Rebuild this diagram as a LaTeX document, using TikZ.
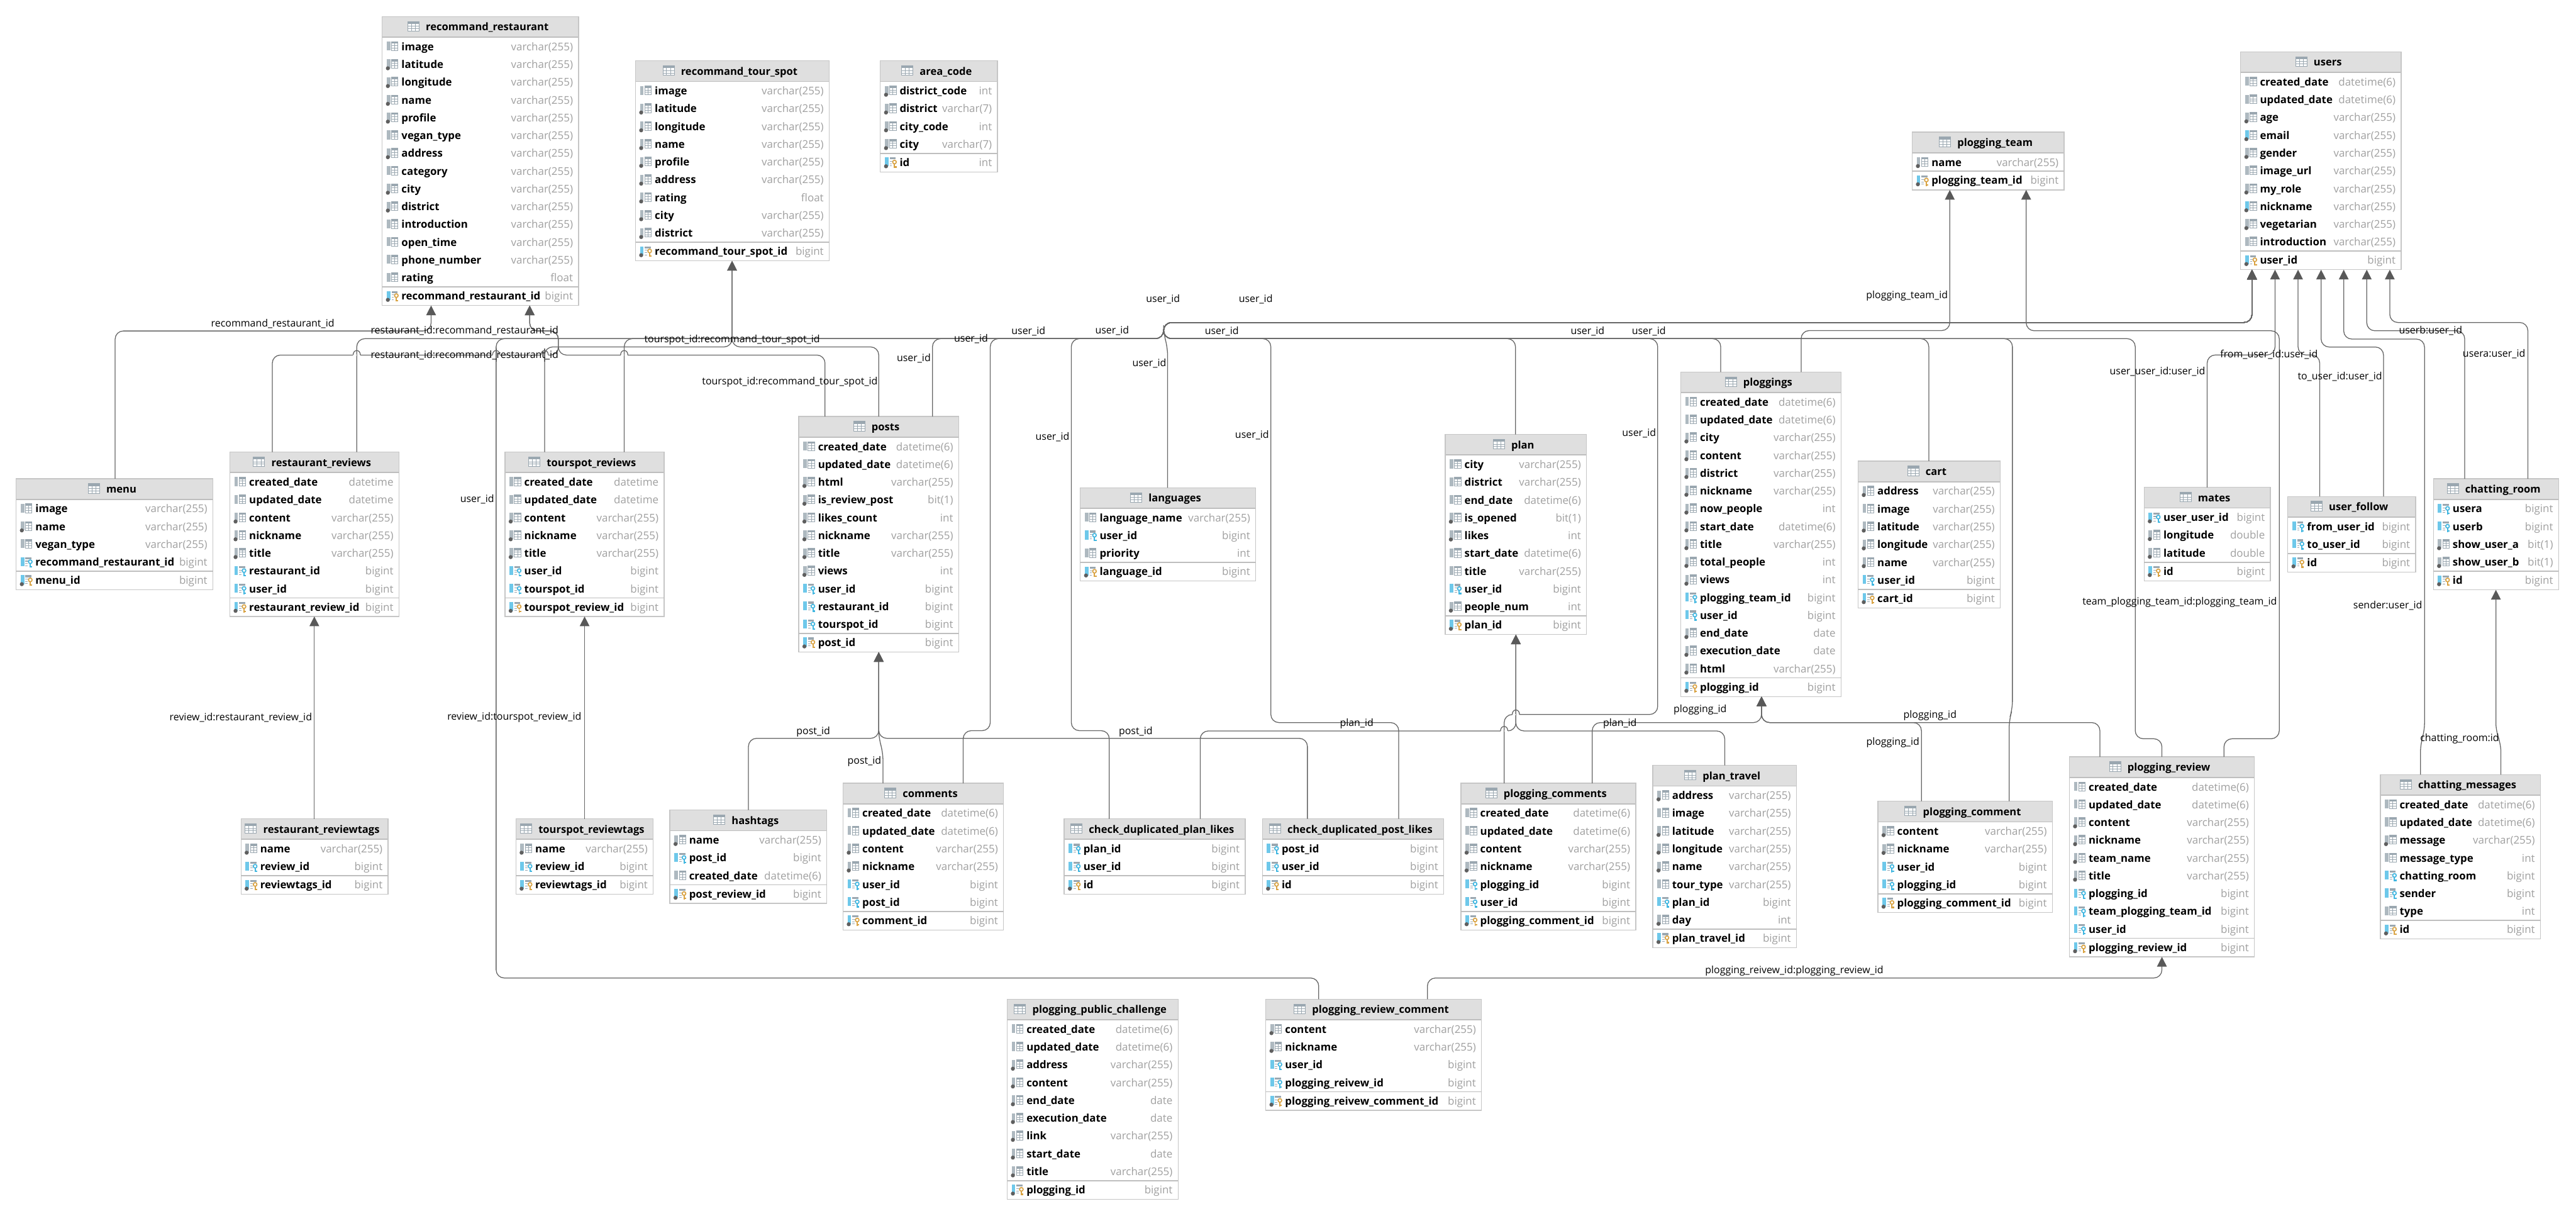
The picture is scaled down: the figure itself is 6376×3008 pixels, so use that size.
\documentclass[tikz,border=0pt]{standalone}
\usepackage{fontspec}
\setmainfont{Open Sans}[Ligatures=NoCommon]
\usetikzlibrary{arrows.meta}
\definecolor{barg}{HTML}{AEB9C0}
\definecolor{gridg}{HTML}{9AA7B0}
\definecolor{barb}{HTML}{6EC8EA}
\definecolor{keyb}{HTML}{40B6E0}
\definecolor{keyg}{HTML}{D9A343}
\definecolor{dotc}{HTML}{5F5F5F}
\definecolor{typec}{HTML}{A0A0A0}
\definecolor{relc}{HTML}{666666}
\definecolor{tipc}{HTML}{595959}
\definecolor{headc}{HTML}{DFDFDF}
\definecolor{edgec}{HTML}{C6C6C6}
\definecolor{sepc}{HTML}{BEBEBE}
\tikzset{
  tblbox/.style={draw=edgec,line width=0.5pt,inner sep=0pt,outer sep=0pt,anchor=north west},
  titletxt/.style={inner sep=0pt,font=\fontsize{6.45}{8}\selectfont\bfseries,anchor=base},
  nametxt/.style={inner sep=0pt,font=\fontsize{6.55}{8}\selectfont\bfseries,anchor=base west},
  typetxt/.style={inner sep=0pt,font=\fontsize{6.6}{8}\selectfont,text=typec,anchor=base east},
  lbl/.style={inner sep=0pt,font=\fontsize{6.2}{8}\selectfont,text=black},
  rel/.style={draw=relc,line width=0.5pt,rounded corners=5pt,-{Triangle[length=6pt,width=6pt,color=tipc]}},
}
\newcount\rowc
% ---- column icon parts, origin at icon left edge and row centre
\newcommand{\gridpart}{%
  \fill[gridg] (12,-13) rectangle (28,-8);
  \draw[gridg,line width=0.3pt] (12,-13) rectangle (28,9) (20,-8) -- (20,9) (12,-3) -- (28,-3) (12,3) -- (28,3);}
\newcommand{\lnpart}{%
  \fill[gridg] (12,-13) rectangle (27,-8);
  \draw[gridg,line width=0.4pt] (12,-3) -- (19,-3) (12,3) -- (18,3) (12,8) -- (18,8);}
\newcommand{\keypart}[1]{%
  \draw[#1,line width=0.65pt] (24,-1.5) circle (4.5);
  \fill[#1] (22.5,3) rectangle (25.5,13);
  \fill[#1] (25,9) rectangle (29,12.5);}
\newcommand{\iconc}{\gridpart\fill[barg] (0,-13) rectangle (9,9);}
\newcommand{\iconn}{\gridpart\fill[barg] (0,-13) rectangle (9,9);\fill[dotc] (3,9) circle (5);}
\newcommand{\iconu}{\gridpart\fill[barb] (0,-13) rectangle (9,9);\fill[dotc] (3,9) circle (5);}
\newcommand{\iconf}{\lnpart\fill[barb] (0,-13) rectangle (9,9);\keypart{keyb}}
\newcommand{\icong}{\lnpart\fill[barb] (0,-13) rectangle (9,9);\fill[dotc] (3,9) circle (5);\keypart{keyb}}
\newcommand{\iconp}{\lnpart\fill[barb] (0,-13) rectangle (9,9);\fill[dotc] (3,9) circle (5);\keypart{keyg}}
% ---- tables
\newcommand{\dbtable}[7]{% id title L T R nrows body
  \def\tid{#1}\def\tL{#3}\def\tT{#4}\def\tR{#5}\def\tN{#6}%
  \global\rowc=0
  \pgfmathsetmacro\tH{53+44*#6+46}%
  \pgfmathsetmacro\tWd{(#5-#3)*0.25}%
  \pgfmathsetmacro\tHd{\tH*0.25}%
  \pgfmathsetmacro\tCx{(#3+#5)/2+17}%
  \pgfmathsetmacro\tBase{#4+35}%
  \pgfmathsetmacro\tHb{#4+51}%
  \fill[headc] (#3,#4) rectangle (#5,\tHb);
  \draw[sepc,line width=0.7pt] (#3,\tHb) -- (#5,\tHb);
  \node[tblbox,minimum width=\tWd pt,minimum height=\tHd pt] (#1) at (#3,#4) {};
  \node[titletxt] (#1t) at (\tCx,\tBase) {#2};
  \begin{scope}[shift={(#1t.base west)}]
    \fill[white] (-44,-23) rectangle (-16,1);
    \fill[gridg] (-44,-23) rectangle (-16,-17);
    \draw[gridg,line width=0.35pt] (-44,-23) rectangle (-16,1) (-35,-17) -- (-35,1) (-25,-17) -- (-25,1) (-44,-11) -- (-16,-11) (-44,-5) -- (-16,-5);
  \end{scope}
  #7}
\newcommand{\drow}[3]{% kind name type
  \pgfmathsetmacro\yc{\tT+75+44*\the\rowc}%
  \pgfmathsetmacro\yb{\yc+9}%
  \pgfmathsetmacro\xi{\tL+11}%
  \pgfmathsetmacro\xn{\tL+47}%
  \pgfmathsetmacro\xt{\tR-13}%
  \global\advance\rowc by 1
  \begin{scope}[shift={(\xi,\yc)}]\csname icon#1\endcsname\end{scope}
  \node[nametxt] (\tid n\the\rowc) at (\xn,\yb) {#2};
  \node[typetxt] (\tid y\the\rowc) at (\xt,\yb) {#3};}
\newcommand{\dpk}[2]{% name type
  \pgfmathsetmacro\ys{\tT+53+44*\tN}%
  \pgfmathsetmacro\yc{\ys+23}%
  \pgfmathsetmacro\yb{\yc+9}%
  \pgfmathsetmacro\xi{\tL+11}%
  \pgfmathsetmacro\xn{\tL+47}%
  \pgfmathsetmacro\xt{\tR-13}%
  \draw[sepc,line width=0.7pt] (\tL,\ys) -- (\tR,\ys);
  \begin{scope}[shift={(\xi,\yc)}]\iconp\end{scope}
  \node[nametxt] (\tid pkn) at (\xn,\yb) {#1};
  \node[typetxt] (\tid pky) at (\xt,\yb) {#2};}
\newcommand{\hop}[2]{%
  \draw[white,line width=1pt] ({#1-9},#2) -- ({#1+9},#2);
  \draw[relc,line width=0.5pt] ({#1-9},#2) .. controls ({#1-9},{#2-15}) and ({#1+9},{#2-15}) .. ({#1+9},#2);
  \draw[relc,line width=0.5pt] (#1,{#2-16}) -- (#1,{#2+16});}
\begin{document}
\catcode`\_=12
\begin{tikzpicture}[x=0.25pt,y=-0.25pt]
\useasboundingbox (0,0) rectangle (6376,3008);
\fill[white] (0,0) rectangle (6376,3008);
\def\vc{varchar(255)}\def\dts{datetime(6)}\def\bi{bigint}

\dbtable{recrest}{recommand_restaurant}{946}{41}{1432}{14}{%
 \drow{c}{image}{\vc}\drow{n}{latitude}{\vc}\drow{n}{longitude}{\vc}\drow{n}{name}{\vc}\drow{n}{profile}{\vc}\drow{c}{vegan_type}{\vc}\drow{n}{address}{\vc}\drow{c}{category}{\vc}\drow{n}{city}{\vc}\drow{n}{district}{\vc}\drow{c}{introduction}{\vc}\drow{c}{open_time}{\vc}\drow{c}{phone_number}{\vc}\drow{c}{rating}{float}\dpk{recommand_restaurant_id}{\bi}}
\dbtable{rects}{recommand_tour_spot}{1573}{150.5}{2052.5}{9}{%
 \drow{c}{image}{\vc}\drow{n}{latitude}{\vc}\drow{n}{longitude}{\vc}\drow{n}{name}{\vc}\drow{n}{profile}{\vc}\drow{n}{address}{\vc}\drow{n}{rating}{float}\drow{n}{city}{\vc}\drow{n}{district}{\vc}\dpk{recommand_tour_spot_id}{\bi}}
\dbtable{areacode}{area_code}{2179}{150.5}{2469}{4}{%
 \drow{n}{district_code}{int}\drow{n}{district}{varchar(7)}\drow{n}{city_code}{int}\drow{n}{city}{varchar(7)}\dpk{id}{int}}
\dbtable{menu}{menu}{40}{1184.5}{527}{4}{%
 \drow{c}{image}{\vc}\drow{n}{name}{\vc}\drow{c}{vegan_type}{\vc}\drow{f}{recommand_restaurant_id}{\bi}\dpk{menu_id}{\bi}}
\dbtable{resrev}{restaurant_reviews}{569}{1118.5}{987.5}{7}{%
 \drow{c}{created_date}{datetime}\drow{c}{updated_date}{datetime}\drow{n}{content}{\vc}\drow{n}{nickname}{\vc}\drow{n}{title}{\vc}\drow{f}{restaurant_id}{\bi}\drow{f}{user_id}{\bi}\dpk{restaurant_review_id}{\bi}}
\dbtable{tsrev}{tourspot_reviews}{1250}{1118.5}{1643.7}{7}{%
 \drow{c}{created_date}{datetime}\drow{c}{updated_date}{datetime}\drow{n}{content}{\vc}\drow{n}{nickname}{\vc}\drow{n}{title}{\vc}\drow{f}{user_id}{\bi}\drow{f}{tourspot_id}{\bi}\dpk{tourspot_review_id}{\bi}}
\dbtable{posts}{posts}{1977}{1030.6}{2373}{11}{%
 \drow{c}{created_date}{\dts}\drow{c}{updated_date}{\dts}\drow{n}{html}{\vc}\drow{n}{is_review_post}{bit(1)}\drow{n}{likes_count}{int}\drow{n}{nickname}{\vc}\drow{n}{title}{\vc}\drow{n}{views}{int}\drow{f}{user_id}{\bi}\drow{f}{restaurant_id}{\bi}\drow{f}{tourspot_id}{\bi}\dpk{post_id}{\bi}}
\dbtable{languages}{languages}{2674}{1207}{3108}{3}{%
 \drow{c}{language_name}{\vc}\drow{f}{user_id}{\bi}\drow{c}{priority}{int}\dpk{language_id}{\bi}}
\dbtable{plan}{plan}{3577}{1075}{3927}{9}{%
 \drow{c}{city}{\vc}\drow{c}{district}{\vc}\drow{c}{end_date}{\dts}\drow{n}{is_opened}{bit(1)}\drow{n}{likes}{int}\drow{c}{start_date}{\dts}\drow{c}{title}{\vc}\drow{f}{user_id}{\bi}\drow{n}{people_num}{int}\dpk{plan_id}{\bi}}
\dbtable{ploggings}{ploggings}{4160}{920.4}{4557}{16}{%
 \drow{c}{created_date}{\dts}\drow{c}{updated_date}{\dts}\drow{n}{city}{\vc}\drow{n}{content}{\vc}\drow{n}{district}{\vc}\drow{n}{nickname}{\vc}\drow{n}{now_people}{int}\drow{n}{start_date}{\dts}\drow{n}{title}{\vc}\drow{n}{total_people}{int}\drow{n}{views}{int}\drow{f}{plogging_team_id}{\bi}\drow{f}{user_id}{\bi}\drow{n}{end_date}{date}\drow{n}{execution_date}{date}\drow{n}{html}{\vc}\dpk{plogging_id}{\bi}}
\dbtable{cart}{cart}{4599}{1141}{4951}{6}{%
 \drow{n}{address}{\vc}\drow{c}{image}{\vc}\drow{n}{latitude}{\vc}\drow{n}{longitude}{\vc}\drow{n}{name}{\vc}\drow{f}{user_id}{\bi}\dpk{cart_id}{\bi}}
\dbtable{mates}{mates}{5307}{1206}{5619.6}{3}{%
 \drow{g}{user_user_id}{\bi}\drow{n}{longitude}{double}\drow{n}{latitude}{double}\dpk{id}{\bi}}
\dbtable{ufollow}{user_follow}{5662.6}{1228.5}{5979}{2}{%
 \drow{f}{from_user_id}{\bi}\drow{f}{to_user_id}{\bi}\dpk{id}{\bi}}
\dbtable{chatroom}{chatting_room}{6023}{1184.6}{6333}{4}{%
 \drow{f}{usera}{\bi}\drow{f}{userb}{\bi}\drow{n}{show_user_a}{bit(1)}\drow{n}{show_user_b}{bit(1)}\dpk{id}{\bi}}
\dbtable{plogreview}{plogging_review}{5122}{1872.8}{5580}{9}{%
 \drow{c}{created_date}{\dts}\drow{c}{updated_date}{\dts}\drow{n}{content}{\vc}\drow{n}{nickname}{\vc}\drow{n}{team_name}{\vc}\drow{n}{title}{\vc}\drow{f}{plogging_id}{\bi}\drow{f}{team_plogging_team_id}{\bi}\drow{f}{user_id}{\bi}\dpk{plogging_review_id}{\bi}}
\dbtable{chatmsg}{chatting_messages}{5891.6}{1916.7}{6288}{7}{%
 \drow{c}{created_date}{\dts}\drow{c}{updated_date}{\dts}\drow{n}{message}{\vc}\drow{c}{message_type}{int}\drow{f}{chatting_room}{\bi}\drow{f}{sender}{\bi}\drow{c}{type}{int}\dpk{id}{\bi}}
\dbtable{plogcomment}{plogging_comment}{4648}{1982.6}{5080}{4}{%
 \drow{n}{content}{\vc}\drow{n}{nickname}{\vc}\drow{f}{user_id}{\bi}\drow{f}{plogging_id}{\bi}\dpk{plogging_comment_id}{\bi}}
\dbtable{users}{users}{5546}{128.4}{5943}{10}{%
 \drow{c}{created_date}{\dts}\drow{c}{updated_date}{\dts}\drow{n}{age}{\vc}\drow{u}{email}{\vc}\drow{n}{gender}{\vc}\drow{c}{image_url}{\vc}\drow{n}{my_role}{\vc}\drow{u}{nickname}{\vc}\drow{n}{vegetarian}{\vc}\drow{c}{introduction}{\vc}\dpk{user_id}{\bi}}
\dbtable{plogteam}{plogging_team}{4733}{327}{5109}{1}{%
 \drow{n}{name}{\vc}\dpk{plogging_team_id}{\bi}}
\dbtable{hashtags}{hashtags}{1658}{2004.5}{2046.5}{3}{%
 \drow{n}{name}{\vc}\drow{f}{post_id}{\bi}\drow{c}{created_date}{\dts}\dpk{post_review_id}{\bi}}
\dbtable{comments}{comments}{2086.7}{1938}{2484}{6}{%
 \drow{c}{created_date}{\dts}\drow{c}{updated_date}{\dts}\drow{n}{content}{\vc}\drow{n}{nickname}{\vc}\drow{f}{user_id}{\bi}\drow{f}{post_id}{\bi}\dpk{comment_id}{\bi}}
\dbtable{chkplan}{check_duplicated_plan_likes}{2634}{2026}{3082}{2}{%
 \drow{f}{plan_id}{\bi}\drow{f}{user_id}{\bi}\dpk{id}{\bi}}
\dbtable{chkpost}{check_duplicated_post_likes}{3124.6}{2026}{3573.5}{2}{%
 \drow{f}{post_id}{\bi}\drow{f}{user_id}{\bi}\dpk{id}{\bi}}
\dbtable{restags}{restaurant_reviewtags}{596.5}{2026}{960.6}{2}{%
 \drow{n}{name}{\vc}\drow{f}{review_id}{\bi}\dpk{reviewtags_id}{\bi}}
\dbtable{tstags}{tourspot_reviewtags}{1277}{2026}{1617}{2}{%
 \drow{n}{name}{\vc}\drow{f}{review_id}{\bi}\dpk{reviewtags_id}{\bi}}
\dbtable{plogcs}{plogging_comments}{3616}{1938}{4048.6}{6}{%
 \drow{c}{created_date}{\dts}\drow{c}{updated_date}{\dts}\drow{n}{content}{\vc}\drow{n}{nickname}{\vc}\drow{f}{plogging_id}{\bi}\drow{f}{user_id}{\bi}\dpk{plogging_comment_id}{\bi}}
\dbtable{plantravel}{plan_travel}{4091}{1894}{4446.6}{8}{%
 \drow{n}{address}{\vc}\drow{c}{image}{\vc}\drow{n}{latitude}{\vc}\drow{n}{longitude}{\vc}\drow{n}{name}{\vc}\drow{c}{tour_type}{\vc}\drow{f}{plan_id}{\bi}\drow{n}{day}{int}\dpk{plan_travel_id}{\bi}}
\dbtable{challenge}{plogging_public_challenge}{2493}{2472.5}{2916}{9}{%
 \drow{c}{created_date}{\dts}\drow{c}{updated_date}{\dts}\drow{n}{address}{\vc}\drow{n}{content}{\vc}\drow{n}{end_date}{date}\drow{n}{execution_date}{date}\drow{n}{link}{\vc}\drow{n}{start_date}{date}\drow{n}{title}{\vc}\dpk{plogging_id}{\bi}}
\dbtable{prvc}{plogging_review_comment}{3133}{2472.5}{3667}{4}{%
 \drow{n}{content}{\vc}\drow{n}{nickname}{\vc}\drow{f}{user_id}{\bi}\drow{f}{plogging_reivew_id}{\bi}\dpk{plogging_reivew_comment_id}{\bi}}

% ---- relations to recommand tables
\draw[rel] (menu.north -| 285,0) -- (285,819) -- (1067,819) -- (recrest.south -| 1067,0);
\draw[rel] (resrev.north -| 674,0) -- (674,878.6) -- (1382,878.6) -- (1382,819) -- (1311,819) -- (recrest.south -| 1311,0);
\draw[rel] (posts.north -| 2042,0) -- (2042,878.6) -- (1382,878.6) -- (1382,819) -- (1311,819) -- (recrest.south -| 1311,0);
\draw[rel] (tsrev.north -| 1348,0) -- (1348,858.5) -- (1812,858.5) -- (rects.south -| 1812,0);
\draw[rel] (posts.north -| 2175,0) -- (2175,858.5) -- (1812,858.5) -- (rects.south -| 1812,0);
% ---- user_id bus, arrow 1
\draw[rel] (resrev.north -| 883,0) -- (883,838) -- (2880,838) -- (2880,798) -- (5574,798) -- (users.south -| 5574,0);
\draw[rel] (prvc.north -| 3264,0) -- (3264,2420) -- (1228,2420) -- (1228,838) -- (2880,838) -- (2880,798) -- (5574,798) -- (users.south -| 5574,0);
\draw[rel] (tsrev.north -| 1545,0) -- (1545,838) -- (2880,838) -- (2880,798) -- (5574,798) -- (users.south -| 5574,0);
\draw[rel] (posts.north -| 2308,0) -- (2308,838) -- (2880,838) -- (2880,798) -- (5574,798) -- (users.south -| 5574,0);
\draw[rel] (comments.north -| 2384,0) -- (2384,1808) -- (2451,1808) -- (2451,838) -- (2880,838) -- (2880,798) -- (5574,798) -- (users.south -| 5574,0);
\draw[rel] (chkplan.north -| 2745.6,0) -- (2745.6,1808) -- (2651.6,1808) -- (2651.6,838) -- (2880,838) -- (2880,798) -- (5574,798) -- (users.south -| 5574,0);
\draw[rel] (languages.north -| 2890,0) -- (2890,860) -- (2880,825) -- (2880,798) -- (5574,798) -- (users.south -| 5574,0);
\draw[rel] (chkpost.north -| 3462,0) -- (3462,1788) -- (3145.5,1788) -- (3145.5,838) -- (2880,838) -- (2880,798) -- (5574,798) -- (users.south -| 5574,0);
\draw[rel] (plan.north -| 3751,0) -- (3751,838) -- (2880,838) -- (2880,798) -- (5574,798) -- (users.south -| 5574,0);
\draw[rel] (plogcs.north -| 3723,0) -- (3723,1768) -- (4103,1768) -- (4103,838) -- (2880,838) -- (2880,798) -- (5574,798) -- (users.south -| 5574,0);
\draw[rel] (ploggings.north -| 4259,0) -- (4259,838) -- (2880,838) -- (2880,798) -- (5574,798) -- (users.south -| 5574,0);
\draw[rel] (cart.north -| 4774,0) -- (4774,838) -- (2880,838) -- (2880,798) -- (5574,798) -- (users.south -| 5574,0);
\draw[rel] (plogcomment.north -| 4973,0) -- (4973,1780) -- (4981,1755) -- (4981,838) -- (2880,838) -- (2880,798) -- (5574,798) -- (users.south -| 5574,0);
\draw[rel] (plogreview.north -| 5351,0) -- (5351,1828) -- (5285,1828) -- (5285,838) -- (2880,838) -- (2880,798) -- (5574,798) -- (users.south -| 5574,0);
% ---- plogging_team
\draw[rel] (ploggings.north -| 4458,0) -- (4458,818) -- (4826,818) -- (plogteam.south -| 4826,0);
\draw[rel] (plogreview.north -| 5504.6,0) -- (5504.6,1828) -- (5641.5,1828) -- (5641.5,818.5) -- (5015,818.5) -- (plogteam.south -| 5015,0);
% ---- other arrows to users
\draw[rel] (mates.north -| 5463,0) -- (5463,878.4) -- (5631,878.4) -- (users.south -| 5631,0);
\draw[rel] (ufollow.north -| 5741.6,0) -- (5741.6,878.4) -- (5688,878.4) -- (users.south -| 5688,0);
\draw[rel] (ufollow.north -| 5899.5,0) -- (5899.5,858.7) -- (5745,858.7) -- (users.south -| 5745,0);
\draw[rel] (chatmsg.north -| 5991,0) -- (5991,1840) -- (6001,1810) -- (6001,839) -- (5801,839) -- (users.south -| 5801,0);
\draw[rel] (chatroom.north -| 6100.5,0) -- (6100.5,818.5) -- (5858,818.5) -- (users.south -| 5858,0);
\draw[rel] (chatroom.north -| 6256.7,0) -- (6256.7,798) -- (5915,798) -- (users.south -| 5915,0);
\draw[rel] (chatmsg.north -| 6190,0) -- (6190,1840) -- (6177.7,1810) -- (chatroom.south -| 6177.7,0);
% ---- plogging_review, ploggings, plan, posts
\draw[rel] (prvc.north -| 3533,0) -- (3533,2420) -- (5351,2420) -- (plogreview.south -| 5351,0);
\draw[rel] (plogcs.north -| 3941,0) -- (3941,1788) -- (4360,1788) -- (ploggings.south -| 4360,0);
\draw[rel] (plogcomment.north -| 4755.7,0) -- (4755.7,1788) -- (4360,1788) -- (ploggings.south -| 4360,0);
\draw[rel] (plogreview.north -| 5197.5,0) -- (5197.5,1788) -- (4360,1788) -- (ploggings.south -| 4360,0);
\draw[rel] (chkplan.north -| 2970.7,0) -- (2970.7,1808.7) -- (3752,1808.7) -- (plan.south -| 3752,0);
\draw[rel] (plantravel.north -| 4269,0) -- (4269,1808.7) -- (3752,1808.7) -- (plan.south -| 3752,0);
\draw[rel] (hashtags.north -| 1852.5,0) -- (1852.5,1827) -- (2175,1827) -- (posts.south -| 2175,0);
\draw[rel] (comments.north -| 2185.4,0) -- (2185.4,1860) -- (2175,1827) -- (posts.south -| 2175,0);
\draw[rel] (chkpost.north -| 3236,0) -- (3236,1827) -- (2175,1827) -- (posts.south -| 2175,0);
\draw[rel] (restags.north -| 778,0) -- (resrev.south -| 778,0);
\draw[rel] (tstags.north -| 1447,0) -- (tsrev.south -| 1447,0);
% ---- line hops
\hop{883}{878.6}\hop{1228}{878.6}\hop{1348}{878.6}\hop{1545}{878.6}\hop{3723}{1808.7}\hop{3752}{1768}
% ---- labels
\node[lbl] (la1) at (675,800.5) {recommand_restaurant_id};
\node[lbl] (la2) at (1150,819) {restaurant_id:recommand_restaurant_id};
\node[lbl] (la3) at (1150,879) {restaurant_id:recommand_restaurant_id};
\node[lbl] (la4) at (1812,840.6) {tourspot_id:recommand_tour_spot_id};
\node[lbl] (la5) at (1955,945) {tourspot_id:recommand_tour_spot_id};
\node[lbl] (la6) at (1181,1235) {user_id};
\node[lbl] (la7) at (2545.5,820.5) {user_id};
\node[lbl] (la8) at (2752.7,819) {user_id};
\node[lbl] (la9) at (2403.5,839) {user_id};
\node[lbl] (la10) at (2261.6,886.6) {user_id};
\node[lbl] (la11) at (2605,1082) {user_id};
\node[lbl] (la12) at (2878.6,740) {user_id};
\node[lbl] (la13) at (3108,740) {user_id};
\node[lbl] (la14) at (3024,820.5) {user_id};
\node[lbl] (la15) at (3929.5,820.5) {user_id};
\node[lbl] (la16) at (4081,820.5) {user_id};
\node[lbl] (la17) at (2844.6,899.7) {user_id};
\node[lbl] (la18) at (3099,1076.5) {user_id};
\node[lbl] (la19) at (4057,1072) {user_id};
\node[lbl] (la20) at (4720,732) {plogging_team_id};
\node[lbl] (la21) at (5340,919) {user_user_id:user_id};
\node[lbl] (la22) at (5616,878) {from_user_id:user_id};
\node[lbl] (la23) at (5791.5,932.6) {to_user_id:user_id};
\node[lbl] (la24) at (6016,818.5) {userb:user_id};
\node[lbl] (la25) at (6173,876) {usera:user_id};
\node[lbl] (la26) at (5395,1491) {team_plogging_team_id:plogging_team_id};
\node[lbl] (la27) at (5910,1498) {sender:user_id};
\node[lbl] (la28) at (6088,1828) {chatting_room:id};
\node[lbl] (la29) at (4441,2403) {plogging_reivew_id:plogging_review_id};
\node[lbl] (la30) at (596,1775) {review_id:restaurant_review_id};
\node[lbl] (la31) at (1273,1775) {review_id:tourspot_review_id};
\node[lbl] (la32) at (2013,1811.6) {post_id};
\node[lbl] (la33) at (2811,1811.6) {post_id};
\node[lbl] (la34) at (2139.5,1884) {post_id};
\node[lbl] (la35) at (3358,1791) {plan_id};
\node[lbl] (la36) at (4009.5,1791) {plan_id};
\node[lbl] (la37) at (4208,1757) {plogging_id};
\node[lbl] (la38) at (4777,1771) {plogging_id};
\node[lbl] (la39) at (4685,1838) {plogging_id};
\end{tikzpicture}
\end{document}
